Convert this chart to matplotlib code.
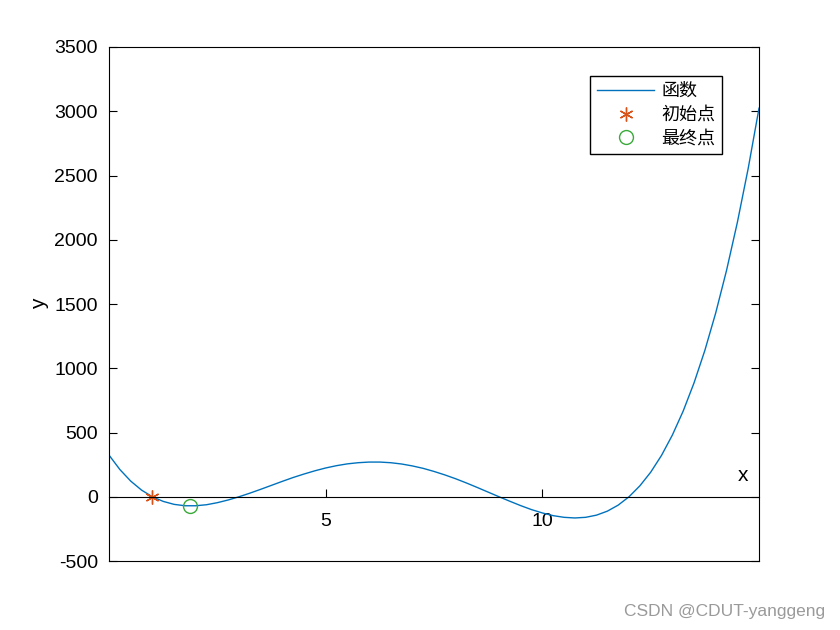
import matplotlib.pyplot as plt

plt.rcParams['font.family'] = ['Liberation Sans', 'Noto Sans CJK SC', 'DejaVu Sans']
plt.rcParams['axes.unicode_minus'] = False

# curve values
x_vals = [0, 0.25, 0.5, 0.75, 1, 1.25, 1.5, 1.75, 2, 2.25, 2.5, 2.75, 3,
          3.25, 3.5, 3.75, 4, 4.25, 4.5, 4.75, 5, 5.25, 5.5, 5.75, 6,
          6.25, 6.5, 6.75, 7, 7.25, 7.5, 7.75, 8, 8.25, 8.5, 8.75, 9,
          9.25, 9.5, 9.75, 10, 10.25, 10.5, 10.75, 11, 11.25, 11.5, 11.75, 12,
          12.25, 12.5, 12.75, 13, 13.25, 13.5, 13.75, 14, 14.25, 14.5, 14.75, 15]
y_vals = [324, 212, 122, 52, 0, -36, -59, -70, -70, -62, -46, -25, 0,
          28, 58, 89, 120, 150, 177, 202, 224, 242, 256, 265, 270,
          270, 265, 255, 240, 221, 197, 170, 140, 107, 72, 36, 0,
          -35, -69, -100, -126, -147, -160, -165, -160, -143, -112, -65, 0,
          85, 191, 322, 480, 667, 886, 1139, 1430, 1761, 2135, 2555, 3024]

# start / end point
x0, y0 = 1.0, 0.0
x1, y1 = 1.87, -71.0

fig = plt.figure(figsize=(8.4, 6.3), dpi=100)
ax = fig.add_axes([0.1298, 0.1095, 0.7738, 0.8159])

ax.plot(x_vals, y_vals, color='#0072BD', lw=1.0, label='函数')
ax.plot(x0, y0, color='#D95319', ms=10, mew=1.0, ls='none',
        label='初始点', marker=(6, 2, 0))
ax.plot(x1, y1, 'o', color='#3AAA3A', ms=10, mfc='none', mew=1.0,
        ls='none', label='最终点')

ax.set_xlim(0, 15)
ax.set_ylim(-500, 3500)
ax.set_yticks(range(-500, 3501, 500))
ax.set_xticks([5, 10])

# x axis through origin, keep box line at bottom
ax.spines['bottom'].set_position(('data', 0))
ax.spines['bottom'].set_linewidth(0.8)
ax.plot([0, 1], [0, 0], transform=ax.transAxes, color='black', lw=0.8,
        clip_on=False)
for s in ['left', 'right', 'top']:
    ax.spines[s].set_linewidth(0.8)

ax.tick_params(axis='both', direction='in', labelsize=14, length=6,
               width=0.8, pad=8)
ax.tick_params(axis='y', right=True)
ax.tick_params(axis='x', pad=12)

ax.text(14.75, 90, 'x', fontsize=15, ha='right', va='bottom')
ax.set_ylabel('y', fontsize=15, labelpad=4)

leg = ax.legend(loc='upper right', bbox_to_anchor=(0.943, 0.944),
                borderaxespad=0, fontsize=13,
                fancybox=False, edgecolor='black', framealpha=1,
                borderpad=0.35, handlelength=3.2, labelspacing=0.32,
                handletextpad=0.4)
for t in leg.get_texts():
    t.set_family(['Noto Sans CJK SC', 'DejaVu Sans'])

fig.text(0.982, 0.03, 'CSDN @CDUT-yanggeng', ha='right', va='center',
         fontsize=12.5, color='#9a9a9a')

fig.savefig('out.png', dpi=100)
